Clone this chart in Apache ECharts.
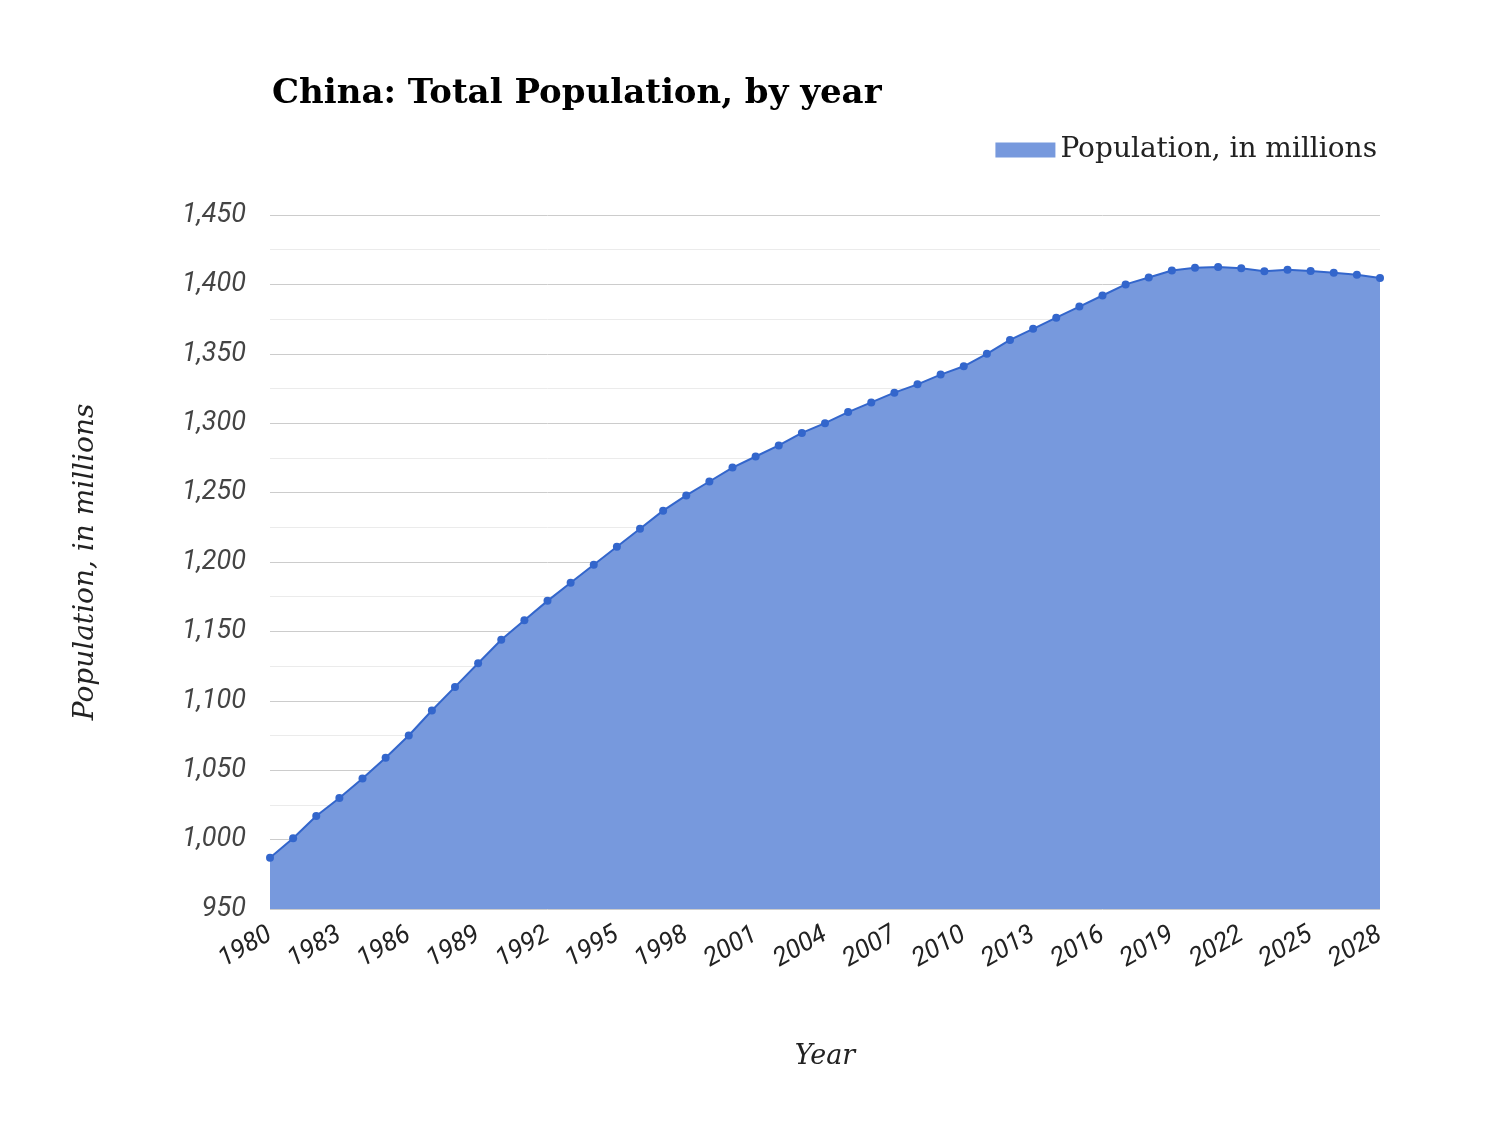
<!DOCTYPE html>
<html>
<head>
<meta charset="utf-8">
<title>China: Total Population, by year</title>
<script src="https://cdn.jsdelivr.net/npm/echarts@6/dist/echarts.min.js"></script>
<style>
  html, body { margin: 0; padding: 0; background: #fff; }
  #chart { width: 1500px; height: 1125px; }
</style>
</head>
<body>
<div id="chart"></div>
<script>
// years on the x axis
var years = [];
for (var y = 1980; y <= 2028; y++) years.push(String(y));

// population, in millions
var population = [
  987, 1001, 1017, 1030, 1044, 1059, 1075, 1093, 1110, 1127,
  1144, 1158, 1172, 1185, 1198, 1211, 1224, 1237, 1248, 1258,
  1268, 1276, 1284, 1293, 1300, 1308, 1315, 1322, 1328, 1335,
  1341, 1350, 1360, 1368, 1376, 1384, 1392, 1400, 1405, 1410,
  1412, 1412.5, 1411.6, 1409.4, 1410.6, 1409.7, 1408.4, 1407, 1404.6
];

var serif = '"DejaVu Serif", "Liberation Serif", serif';
var sans = 'Roboto, "Noto Sans", sans-serif';

function loadChart(id, option) {
    var myChart = echarts.init(document.getElementById(id));
    myChart.setOption(option);
    return myChart;
}

var option = {
    backgroundColor: '#fff',
    animation: false,
    title: {
        text: 'China: Total Population, by year',
        left: 267,
        top: 72,
        textStyle: { fontFamily: serif, fontWeight: 'bold', fontSize: 34, color: '#000' }
    },
    legend: {
        right: 118,
        top: 131,
        icon: 'rect',
        itemWidth: 60,
        itemHeight: 15,
        itemGap: 12,
        textStyle: { fontFamily: serif, fontSize: 28, color: '#222' },
        data: [{ name: 'Population, in millions', itemStyle: { color: '#7799dd' } }]
    },
    grid: { left: 270, right: 120, top: 215, bottom: 216 },
    xAxis: {
        type: 'category',
        data: years,
        boundaryGap: false,
        name: 'Year',
        nameLocation: 'middle',
        nameGap: 134,
        nameTextStyle: { fontFamily: serif, fontStyle: 'italic', fontSize: 27, color: '#222' },
        axisLine: { show: false },
        axisTick: { show: false },
        axisLabel: {
            interval: 2,
            rotate: 30,
            margin: 24,
            fontFamily: sans,
            fontStyle: 'italic',
            fontSize: 26,
            color: '#222'
        },
        splitLine: { show: false }
    },
    yAxis: {
        type: 'value',
        min: 950,
        max: 1450,
        interval: 50,
        name: 'Population, in millions',
        nameLocation: 'middle',
        nameGap: 170,
        nameTextStyle: { fontFamily: serif, fontStyle: 'italic', fontSize: 28, color: '#222' },
        axisLine: { show: false },
        axisTick: { show: false },
        axisLabel: {
            margin: 24,
            fontFamily: sans,
            fontStyle: 'italic',
            fontSize: 27,
            color: '#444',
            formatter: function (v) { return v.toLocaleString('en-US'); }
        },
        splitLine: { lineStyle: { color: '#cccccc', width: 1 } },
        minorTick: { show: false, splitNumber: 2 },
        minorSplitLine: { show: true, lineStyle: { color: '#ebebeb', width: 1 } }
    },
    series: [{
        name: 'Population, in millions',
        type: 'line',
        data: population,
        symbol: 'circle',
        symbolSize: 8,
        showSymbol: true,
        lineStyle: { color: '#3366cc', width: 2 },
        itemStyle: { color: '#3366cc' },
        areaStyle: { color: '#7799dd', opacity: 1 }
    }]
};

loadChart('chart', option);
</script>
</body>
</html>
